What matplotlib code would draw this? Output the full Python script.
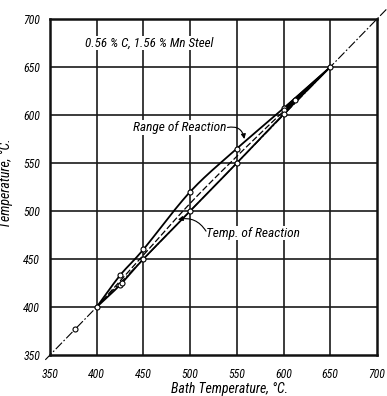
import numpy as np
import matplotlib
matplotlib.use('Agg')
import matplotlib.pyplot as plt
from matplotlib import font_manager

# pick a condensed italic face if one is installed, else shrink a normal one
_fl = font_manager.fontManager.ttflist
_names = {f.name for f in _fl}
FAM, STRETCH, SC = 'Liberation Sans', 'normal', 0.80
if 'Liberation Sans Narrow' in _names:
    FAM, STRETCH, SC = 'Liberation Sans Narrow', 'normal', 1.0
elif 'Roboto Condensed' in _names:
    FAM, STRETCH, SC = 'Roboto Condensed', 'normal', 1.0
elif any(f.name == 'DejaVu Sans' and 'Condensed' in f.fname and f.style != 'normal' for f in _fl):
    FAM, STRETCH, SC = 'DejaVu Sans', 'condensed', 0.9

# ---- data ----
bath_temp = [400, 425, 450, 500, 550, 600, 650]
range_upper = [400, 433, 460, 520, 565, 607, 650]
range_lower = [400, 423, 450, 500, 550, 601, 650]
reaction_temp = [400, 427, 454, 508, 557, 604, 650]

obs_bath = [377, 400, 425, 425, 427, 450, 450, 500, 500, 550, 550, 600, 600, 600, 612, 650]
obs_temp = [377, 400, 433, 423, 425, 460, 450, 520, 500, 565, 550, 607, 605, 601, 616, 650]

diag_ends = [345, 715]
ticks = [350, 400, 450, 500, 550, 600, 650, 700]
tick_labels = ['350', '400', '450', '500', '550', '600', '650', '700']
title = '0.56 % C, 1.56 % Mn Steel'


def smooth(xs, ys, n=30):
    P = np.column_stack([xs, ys]).astype(float)
    P = np.vstack([2 * P[0] - P[1], P, 2 * P[-1] - P[-2]])
    out = []
    t = np.linspace(0, 1, n, endpoint=False)[:, None]
    for i in range(1, len(P) - 2):
        p0, p1, p2, p3 = P[i - 1], P[i], P[i + 1], P[i + 2]
        c = 0.5 * ((2 * p1) + (-p0 + p2) * t + (2 * p0 - 5 * p1 + 4 * p2 - p3) * t ** 2
                   + (-p0 + 3 * p1 - 3 * p2 + p3) * t ** 3)
        out.append(c)
    out.append(P[-2][None])
    a = np.vstack(out)
    return a[:, 0], a[:, 1]


def fp(size):
    return dict(fontfamily=FAM, fontstretch=STRETCH, fontstyle='italic', fontsize=size * SC)


fig = plt.figure(figsize=(3.87, 3.96), dpi=100)
ax = fig.add_axes([50 / 387, 1 - 355 / 396, 327 / 387, 336 / 396])
ax.set_xlim(350, 700)
ax.set_ylim(350, 700)

# grid
for t in ticks[1:-1]:
    ax.axvline(t, color='#1a1a1a', lw=1.2, zorder=1)
    ax.axhline(t, color='#1a1a1a', lw=1.2, zorder=1)
for s in ax.spines.values():
    s.set_linewidth(1.8)
    s.set_color('#111111')

ax.set_xticks(ticks)
ax.set_yticks(ticks)
ax.set_xticklabels(tick_labels, **fp(8.5))
ax.set_yticklabels(tick_labels, **fp(8.5))
ax.tick_params(length=0)
ax.tick_params(axis='y', pad=7)
ax.tick_params(axis='x', pad=9)

# diagonal y = x
ax.plot(diag_ends, diag_ends, color='black', lw=0.8, ls=(0, (8, 2, 1.5, 2)),
        clip_on=False, zorder=2)

ux, uy = smooth(bath_temp, range_upper)
lx, ly = smooth(bath_temp, range_lower)
mx, my = smooth(bath_temp, reaction_temp)

ax.plot(ux, uy, color='black', lw=1.3, zorder=3)
ax.plot(lx, ly, color='black', lw=1.3, zorder=3)
ax.plot(mx, my, color='black', lw=0.9, ls=(0, (5, 2)), zorder=3)

# dark wedge where the curves merge
su = ux >= 602
sl = lx >= 602
ax.fill(np.concatenate([ux[su], lx[sl][::-1]]), np.concatenate([uy[su], ly[sl][::-1]]),
        color='black', lw=0.9, zorder=3)

ax.plot(obs_bath, obs_temp, 'o', ms=3.6, mfc='white', mec='black', mew=0.8, zorder=5)

# texts
ax.text(456, 675, title, ha='center', va='center', zorder=6,
        bbox=dict(facecolor='white', edgecolor='none', pad=0.5), **fp(9.4))
ax.text(489, 587, 'Range of Reaction', ha='center', va='center', zorder=6,
        bbox=dict(facecolor='white', edgecolor='none', pad=0.5), **fp(9.6))
ax.annotate('', xy=(558, 575), xytext=(540, 587),
            arrowprops=dict(arrowstyle='-|>', color='black', lw=0.8, mutation_scale=7,
                            connectionstyle='arc3,rad=-0.5', shrinkA=0, shrinkB=0), zorder=6)
ax.text(567, 477, 'Temp. of Reaction', ha='center', va='center', zorder=6,
        bbox=dict(facecolor='white', edgecolor='none', pad=0.5), **fp(9.6))
ax.annotate('', xy=(487, 491), xytext=(517, 479),
            arrowprops=dict(arrowstyle='-|>', color='black', lw=0.8, mutation_scale=7,
                            connectionstyle='arc3,rad=0.35', shrinkA=0, shrinkB=0), zorder=6)

ax.set_xlabel('Bath Temperature, °C.', **fp(10))
ax.set_ylabel('Temperature, °C.', **fp(10))
ax.xaxis.set_label_coords((230 - 50) / 327, -(382 - 355) / 336)
ax.yaxis.set_label_coords(-(50 - 13) / 327, (355 - 183) / 336)

fig.savefig('out.png', dpi=100)
